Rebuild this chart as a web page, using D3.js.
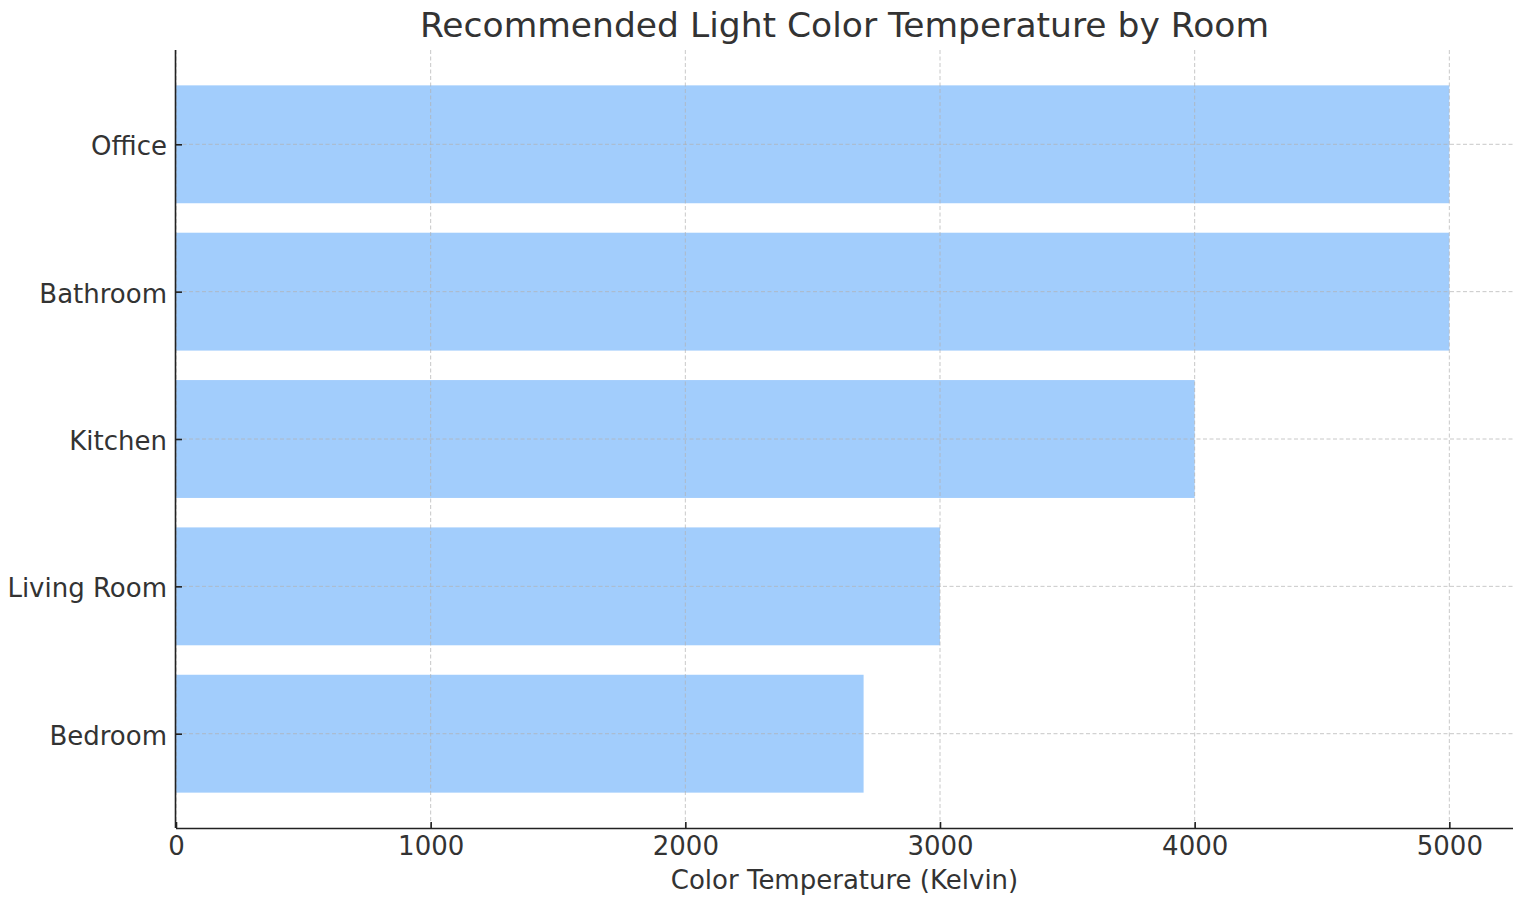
<!DOCTYPE html>
<html><head><meta charset="utf-8">
<script src="https://cdn.jsdelivr.net/npm/d3@7"></script>
<style>body{margin:0;background:#fff}svg{display:block}text{font-family:"DejaVu Sans",sans-serif;fill:#333}</style>
</head><body><svg id="c" width="1517" height="900"></svg>
<script>
const rooms = ["Bedroom","Living Room","Kitchen","Bathroom","Office"];
const kelvin = [2700,3000,4000,5000,5000];
const xTicks = [0,1000,2000,3000,4000,5000];
const title = "Recommended Light Color Temperature by Room";
const xLabel = "Color Temperature (Kelvin)";

const svg = d3.select("#c");
const L=176, R=1513, T=50, B=828;
const x = d3.scaleLinear().domain([0,5250]).range([L,R]);
const y = d3.scaleLinear().domain([-0.64,4.64]).range([B,T]);
const barH = y(0)-y(0.8);

svg.selectAll("rect.bar").data(rooms).join("rect").attr("class","bar")
  .attr("x",x(0)).attr("y",(d,i)=>y(i+0.4))
  .attr("width",(d,i)=>x(kelvin[i])-x(0)).attr("height",barH)
  .attr("fill","#a2cdfc");

// grid
const g = svg.append("g");
g.selectAll("line.vx").data(xTicks).join("line")
  .attr("x1",d=>x(d)).attr("x2",d=>x(d)).attr("y1",T).attr("y2",B)
  .attr("stroke","#b0b0b0").attr("stroke-opacity",0.7).attr("stroke-dasharray","4,2.5").attr("stroke-width",1);
g.selectAll("line.hy").data(rooms).join("line")
  .attr("y1",(d,i)=>y(i)).attr("y2",(d,i)=>y(i)).attr("x1",L).attr("x2",R)
  .attr("stroke","#b0b0b0").attr("stroke-opacity",0.7).attr("stroke-dasharray","4,2.5").attr("stroke-width",1);

// axes
const xa = svg.append("g").attr("transform",`translate(0,${B})`)
  .call(d3.axisBottom(x).tickValues(xTicks).tickFormat(d3.format("d")).tickSize(-6).tickPadding(9).tickSizeOuter(0));
xa.select(".domain").attr("d",`M${L},0.5H${R}`);
const ya = svg.append("g").attr("transform",`translate(${L},0)`)
  .call(d3.axisLeft(y).tickValues(rooms.map((d,i)=>i)).tickFormat(i=>rooms[i]).tickSize(-6).tickPadding(9).tickSizeOuter(0));
ya.select(".domain").attr("d",`M-0.5,${T}V${B}`);
[xa,ya].forEach(a=>{
  a.select(".domain").attr("stroke","#222").attr("stroke-width",1.6);
  a.selectAll(".tick line").attr("stroke","#222").attr("stroke-width",1.6);
  a.selectAll(".tick text").attr("font-size",26).attr("fill","#333").attr("font-family","DejaVu Sans");
});
ya.selectAll(".tick text").attr("dy","0.4em");

svg.append("text").attr("x",(L+R)/2).attr("y",37).attr("text-anchor","middle")
  .attr("font-size",34.5).text(title);
svg.append("text").attr("x",(L+R)/2).attr("y",889).attr("text-anchor","middle")
  .attr("font-size",26).text(xLabel);
</script></body></html>
